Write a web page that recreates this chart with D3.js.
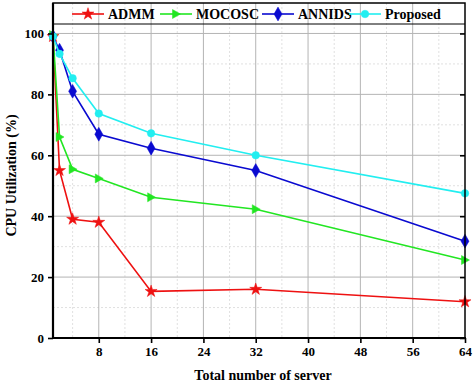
<!DOCTYPE html>
<html><head><meta charset="utf-8">
<script src="https://cdn.jsdelivr.net/npm/d3@7"></script>
<style>body{margin:0;background:#fff}svg{display:block}</style>
</head><body>
<svg id="c" width="474" height="385"></svg>
<script>
const servers = [1, 2, 4, 8, 16, 32, 64];
const admm = [99, 55, 39, 38, 15.3, 16, 11.9];
const mocosc = [99.5, 66, 55.4, 52.4, 46.2, 42.3, 25.6];
const annids = [99, 94.5, 81, 66.9, 62.3, 55, 31.8];
const proposed = [99, 93.3, 85.3, 73.7, 67.2, 60, 47.5];
const seriesNames = ["ADMM", "MOCOSC", "ANNIDS", "Proposed"];
const xTicks = [8, 16, 24, 32, 40, 48, 56, 64];
const yTicks = [0, 20, 40, 60, 80, 100];

const colors = ["#ee1111", "#22e622", "#0a0ad0", "#22eef0"];
const shapes = [d3.symbolStar, "tri", d3.symbolDiamond, d3.symbolCircle];
const allSeries = [admm, mocosc, annids, proposed];

const svg = d3.select("#c");
const L = 53, R = 465, T = 3, B = 338;
const x = d3.scaleLinear().domain([1, 64]).range([L, R]);
const y = d3.scaleLinear().domain([0, 110]).range([B, T]);
const font = "'Liberation Serif','Times New Roman',serif";

// grid minor
const g = svg.append("g");
g.selectAll(".mx").data(d3.range(4, 64, 8)).enter().append("line")
  .attr("x1", d => x(d)).attr("x2", d => x(d)).attr("y1", T).attr("y2", B)
  .attr("stroke", "#d8d8d8").attr("stroke-width", 0.8).attr("stroke-dasharray", "2,2");
g.selectAll(".my").data(d3.range(10, 110, 20)).enter().append("line")
  .attr("x1", L).attr("x2", R).attr("y1", d => y(d)).attr("y2", d => y(d))
  .attr("stroke", "#d8d8d8").attr("stroke-width", 0.8).attr("stroke-dasharray", "2,2");
// grid major
g.selectAll(".Mx").data(xTicks.slice(0, -1)).enter().append("line")
  .attr("x1", d => x(d)).attr("x2", d => x(d)).attr("y1", T).attr("y2", B)
  .attr("stroke", "#b4b4b4").attr("stroke-width", 1);
g.selectAll(".My").data(yTicks.slice(1)).enter().append("line")
  .attr("x1", L).attr("x2", R).attr("y1", d => y(d)).attr("y2", d => y(d))
  .attr("stroke", "#b4b4b4").attr("stroke-width", 1);

function markerPath(i) {
  if (shapes[i] === "tri") return "M-3.5,-4.5L4.5,0L-3.5,4.5Z";
  const sizes = [45, 0, 55, 45];
  return d3.symbol().type(shapes[i]).size(sizes[i])();
}

// series
allSeries.forEach((vals, i) => {
  const pts = servers.map((s, j) => [s, vals[j]]);
  svg.append("path").datum(pts)
    .attr("d", d3.line().x(d => x(d[0])).y(d => y(d[1])))
    .attr("fill", "none").attr("stroke", colors[i]).attr("stroke-width", 1.6);
  svg.selectAll(".m" + i).data(pts).enter().append("path")
    .attr("transform", d => `translate(${x(d[0])},${y(d[1])})`)
    .attr("d", markerPath(i))
    .attr("fill", colors[i]).attr("stroke", colors[i]).attr("stroke-width", 0.5);
});

// frame
svg.append("rect").attr("x", L).attr("y", T).attr("width", R - L).attr("height", B - T)
  .attr("fill", "none").attr("stroke", "#000").attr("stroke-width", 1.5);
svg.append("line").attr("x1", L).attr("x2", L).attr("y1", T).attr("y2", B + 1)
  .attr("stroke", "#000").attr("stroke-width", 2.2);
svg.append("line").attr("x1", L - 1).attr("x2", R + 1).attr("y1", B).attr("y2", B)
  .attr("stroke", "#000").attr("stroke-width", 2.2);

// axes
const xAxis = svg.append("g").attr("transform", `translate(0,${B})`)
  .call(d3.axisBottom(x).tickValues(xTicks).tickSize(5).tickPadding(4));
const yAxis = svg.append("g").attr("transform", `translate(${L},0)`)
  .call(d3.axisLeft(y).tickValues(yTicks).tickSize(5).tickPadding(4));
const yRight = svg.append("g").attr("transform", `translate(${R},0)`)
  .call(d3.axisLeft(y).tickValues(yTicks).tickSize(5).tickFormat(""));
[xAxis, yAxis, yRight].forEach(a => {
  a.select(".domain").remove();
  a.selectAll(".tick line").attr("stroke", "#000").attr("stroke-width", 1.6);
  a.selectAll("text").attr("font-family", font).attr("font-weight", "bold")
    .attr("font-size", 13).attr("fill", "#000");
});

// legend box
svg.append("line").attr("x1", L).attr("x2", R).attr("y1", 24).attr("y2", 24)
  .attr("stroke", "#000").attr("stroke-width", 1);
const legX = [72, 160, 262, 349];
seriesNames.forEach((n, i) => {
  const lg = svg.append("g").attr("transform", `translate(${legX[i]},14)`);
  lg.append("line").attr("x1", 0).attr("x2", 32).attr("stroke", colors[i]).attr("stroke-width", 1.6);
  lg.append("path").attr("transform", "translate(16,0)").attr("d", markerPath(i))
    .attr("fill", colors[i]).attr("stroke", colors[i]).attr("stroke-width", 0.5);
  lg.append("text").attr("x", 36).attr("y", 5).text(n)
    .attr("font-family", font).attr("font-weight", "bold").attr("font-size", 14);
});

// titles
svg.append("text").attr("x", (L + R) / 2 + 4).attr("y", 380).attr("text-anchor", "middle")
  .attr("font-family", font).attr("font-weight", "bold").attr("font-size", 14)
  .text("Total number of server");
svg.append("text").attr("transform", `translate(16,${(T + B) / 2 + 5}) rotate(-90)`)
  .attr("text-anchor", "middle")
  .attr("font-family", font).attr("font-weight", "bold").attr("font-size", 14)
  .text("CPU Utilization (%)");
</script>
</body></html>
